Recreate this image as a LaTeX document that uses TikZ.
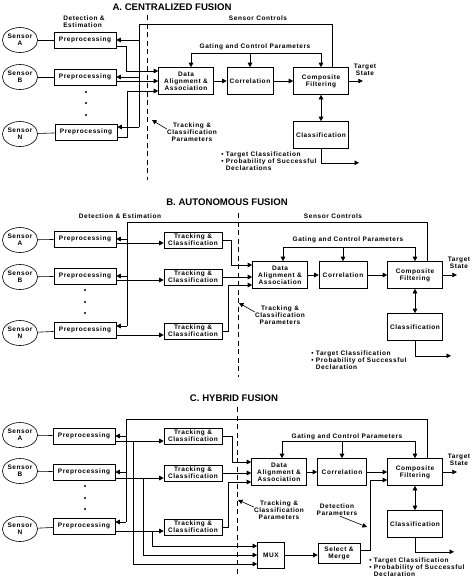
\documentclass[tikz,border=0pt]{standalone}
\usepackage{fontspec}
\setmainfont{Liberation Sans}
\newfontfamily\lblfont[LetterSpace=9]{Liberation Sans}
\usetikzlibrary{arrows.meta,shapes.geometric}

\begin{document}
\begin{tikzpicture}[x=1pt,y=-1pt,line width=0.6pt,
  >={Triangle[length=4.5pt,width=4.5pt]},
  lbl/.style={font={\lblfont\bfseries\fontsize{6.5}{7}\selectfont},align=center,inner sep=0pt},
  title/.style={font={\bfseries\fontsize{9.6}{10}\selectfont},inner sep=0pt},
  sensor/.style={lbl,draw,ellipse,minimum width=32pt,minimum height=25pt},
  prep/.style={lbl,draw,minimum width=62pt,minimum height=16pt},
  track/.style={lbl,draw,minimum width=58pt,minimum height=16pt},
  block/.style={lbl,draw,minimum width=55pt,minimum height=27pt},
  divider/.style={dash pattern=on 5pt off 3.5pt}]
\useasboundingbox (0,0) rectangle (474,579);

% A. centralized fusion
\node[title] (ttlA) at (172,7) {A. CENTRALIZED FUSION};
\node[lbl,align=left,anchor=west] (detA) at (63,22) {Detection \&\\Estimation};
\node[sensor] (sA1) at (20,40) {Sensor\\A};
\node[sensor] (sA2) at (20,77) {Sensor\\B};
\node[sensor] (sA3) at (20,134) {Sensor\\N};
\node[prep] (pA1) at (85,40) {Preprocessing};
\node[prep] (pA2) at (85,77) {Preprocessing};
\node[prep] (pA3) at (86,132) {Preprocessing};
\foreach \y in {92,103,115} \fill (86,\y) circle (1.1pt);
\node[block] (dA) at (186,81) {Data\\Alignment \&\\Association};
\node[block,minimum width=46pt] (rA) at (250,81) {Correlation};
\node[block] (fA) at (321,81) {Composite\\Filtering};
\node[block] (cA) at (321,135) {Classification};
\node[lbl] (scA) at (258,18) {Sensor Controls};
\node[lbl] (gtA) at (255,47) {Gating and Control Parameters};
\node[lbl] (tsA) at (365,70) {Target\\State};
\node[lbl] (tpA) at (192,132) {Tracking \&\\Classification\\Parameters};
\node[lbl,align=left,anchor=north west] (outA) at (221,151)
  {\textbullet\ Target Classification\\\textbullet\ Probability of Successful\\\phantom{\textbullet\ }Declarations};
\coordinate (ctA) at (139,24);
\coordinate (cbA) at (139,127);
\coordinate (tipA) at (152,120);
\draw (sA1) -- (pA1);
\draw (sA2) -- (pA2);
\draw (sA3) -- (pA3);
\draw ([xshift=11pt]fA.north) |- (ctA) -- (cbA);
\draw[->] (ctA |- pA1.east) -- (pA1.east);
\draw[->] (ctA |- pA2.east) -- (pA2.east);
\draw[->] (cbA) -- (cbA -| pA3.east);
\draw[->] ([yshift=-6pt]pA1.east) -- ++(10,0) |- ([yshift=10pt]dA.west);
\draw[->] ([yshift=-4pt]pA2.east) -- (dA.west);
\draw[->] ([yshift=-5pt]pA3.east) -- ++(10,0) |- ([yshift=-10pt]dA.west);
\draw[->] (dA) -- (rA);
\draw[->] (rA) -- (fA);
\draw[->] (fA.east) -- ++(14,0);
\draw[<->] ([xshift=5pt]dA.north) -- ++(0,-14) coordinate (gA) -| (fA.north);
\draw[->] (gA -| rA.north) -- (rA.north);
\draw[<->] (fA) -- (cA);
\draw[->] (cA.south) -- ++(0,14) -- ++(38,0);
\draw[->] ([yshift=3pt]tpA.west) -- (tipA);
\draw[divider] (147,15) -- (147,180);

% B. autonomous fusion
\node[title] (ttlB) at (227,202) {B. AUTONOMOUS FUSION};
\node[lbl] (detB) at (120,216) {Detection \& Estimation};
\node[sensor] (sB1) at (20,240) {Sensor\\A};
\node[sensor] (sB2) at (20,277) {Sensor\\B};
\node[sensor] (sB3) at (20,333) {Sensor\\N};
\node[prep] (pB1) at (85,239) {Preprocessing};
\node[prep] (pB2) at (85,276) {Preprocessing};
\node[prep] (pB3) at (85,330) {Preprocessing};
\foreach \y in {290,302,313} \fill (85,\y) circle (1.1pt);
\node[track] (tB1) at (193,240) {Tracking \&\\Classification};
\node[track] (tB2) at (193,277) {Tracking \&\\Classification};
\node[track] (tB3) at (193,331) {Tracking \&\\Classification};
\node[block] (dB) at (280,275) {Data\\Alignment \&\\Association};
\node[block,minimum width=48pt] (rB) at (343,275) {Correlation};
\node[block] (fB) at (415,275) {Composite\\Filtering};
\node[block] (cB) at (415,327) {Classification};
\node[lbl] (scB) at (333,216) {Sensor Controls};
\node[lbl] (gtB) at (348,240) {Gating and Control Parameters};
\node[lbl] (tsB) at (459,263) {Target\\State};
\node[lbl] (tpB) at (280,315) {Tracking \&\\Classification\\Parameters};
\node[lbl,align=left,anchor=north west] (outB) at (311,350)
  {\textbullet\ Target Classification\\\textbullet\ Probability of Successful\\\phantom{\textbullet\ }Declaration};
\coordinate (ctB) at (127,222);
\coordinate (cbB) at (127,326);
\coordinate (tipB) at (239,303);
\draw (sB1) -- (pB1);
\draw (sB2) -- (pB2);
\draw (sB3) -- (pB3);
\draw ([xshift=12pt]fB.north) |- (ctB) -- (cbB);
\draw[->] (ctB |- pB1.east) -- (pB1.east);
\draw[->] (ctB |- pB2.east) -- (pB2.east);
\draw[->] (cbB) -- (cbB -| pB3.east);
\draw[->] ([yshift=-4pt]pB1.east) coordinate (oB1) -- (oB1 -| tB1.west);
\draw[->] ([yshift=-4pt]pB2.east) coordinate (oB2) -- (oB2 -| tB2.west);
\draw[->] ([yshift=-5pt]pB3.east) coordinate (oB3) -- (oB3 -| tB3.west);
\draw[->] (tB1.east) -- ++(9,0) |- ([yshift=10pt]dB.west);
\draw[->] (tB2.east) -- (tB2.east -| dB.west);
\draw[->] (tB3.east) -- ++(6,0) |- ([yshift=-10pt]dB.west);
\draw[->] (dB) -- (rB);
\draw[->] (rB) -- (fB);
\draw[->] (fB.east) -- ++(14,0);
\draw[<->] ([xshift=3pt]dB.north) -- ++(0,-14) coordinate (gB) -| (fB.north);
\draw[->] (gB -| rB.north) -- (rB.north);
\draw[<->] (fB) -- (cB);
\draw[->] (cB.south) -- ++(0,15) -- ++(36,0);
\draw[->] ([yshift=3pt]tpB.west) -- (tipB);
\draw[divider] (238,213) -- (238,377);

% C. hybrid fusion
\node[title] (ttlC) at (234,398) {C. HYBRID FUSION};
\node[sensor] (sC1) at (20,435) {Sensor\\A};
\node[sensor] (sC2) at (20,471) {Sensor\\B};
\node[sensor] (sC3) at (20,529) {Sensor\\N};
\node[prep] (pC1) at (84,436) {Preprocessing};
\node[prep] (pC2) at (84,472) {Preprocessing};
\node[prep] (pC3) at (84,526) {Preprocessing};
\foreach \y in {486,498,509} \fill (85,\y) circle (1.1pt);
\node[track] (tC1) at (193,436) {Tracking \&\\Classification};
\node[track] (tC2) at (193,473) {Tracking \&\\Classification};
\node[track] (tC3) at (193,527) {Tracking \&\\Classification};
\node[block] (dC) at (279,472) {Data\\Alignment \&\\Association};
\node[block,minimum width=49pt] (rC) at (342,472) {Correlation};
\node[block] (fC) at (415,472) {Composite\\Filtering};
\node[block] (cC) at (415,524) {Classification};
\node[block,minimum width=27pt,minimum height=26pt] (mux) at (271,555) {MUX};
\node[block,minimum width=42pt,minimum height=20pt] (sm) at (339,553) {Select \&\\Merge};
\node[lbl] (gtC) at (347,437) {Gating and Control Parameters};
\node[lbl] (tsC) at (459,460) {Target\\State};
\node[lbl] (tpC) at (279,510) {Tracking \&\\Classification\\Parameters};
\node[lbl] (dpC) at (337,510) {Detection\\Parameters};
\node[lbl,align=left,anchor=north west] (outC) at (369,557)
  {\textbullet\ Target Classification\\\textbullet\ Probability of Successful\\\phantom{\textbullet\ }Declaration};
\coordinate (ctC) at (126,419);
\coordinate (cbC) at (126,522);
\coordinate (tipC) at (238,500);
\coordinate (tipD) at (367,527);
\draw (sC1) -- (pC1);
\draw (sC2) -- (pC2);
\draw (sC3) -- (pC3);
\draw ([xshift=12pt]fC.north) |- (ctC) -- (cbC);
\draw[->] (ctC |- pC1.east) -- (pC1.east);
\draw[->] (ctC |- pC2.east) -- (pC2.east);
\draw[->] (cbC) -- (cbC -| pC3.east);
\draw[->] ([yshift=-5pt]pC1.east) coordinate (oC1) -- (oC1 -| tC1.west);
\draw[->] (oC1) -- ++(18,0) |- ([yshift=-9pt]mux.west);
\draw[->] ([yshift=-6pt]pC2.east) coordinate (oC2) -- (oC2 -| tC2.west);
\draw[->] (oC2) -- ++(28,0) |- (mux.west);
\draw[->] ([yshift=-5pt]pC3.east) coordinate (oC3) -- (oC3 -| tC3.west);
\draw[->] (oC3) -- ++(37,0) |- ([yshift=9pt]mux.west);
\draw[->] (tC1.east) -- ++(10,0) |- ([yshift=10pt]dC.west);
\draw[->] (tC2.east) -- (tC2.east -| dC.west);
\draw[->] (tC3.east) -- ++(6,0) |- ([yshift=-10pt]dC.west);
\draw[->] (dC) -- (rC);
\draw[->] (rC) -- (fC);
\draw[->] (mux.east) -- (mux.east -| sm.west);
\draw[->] ([yshift=3pt]sm.east) -- ++(10,0) |- ([yshift=-8pt]fC.west);
\draw[->] (fC.east) -- ++(14,0);
\draw[<->] ([xshift=3pt]dC.north) -- ++(0,-17) coordinate (gC) -| (fC.north);
\draw[->] (gC -| rC.north) -- (rC.north);
\draw[<->] (fC) -- (cC);
\draw[->] (cC.south) -- ++(0,14) -- ++(39,0);
\draw[->] ([yshift=3pt]tpC.west) -- (tipC);
\draw[->] ([xshift=3pt]dpC.south) -- (tipD);
\draw[divider] (237,407) -- (237,575);
\end{tikzpicture}
\end{document}
